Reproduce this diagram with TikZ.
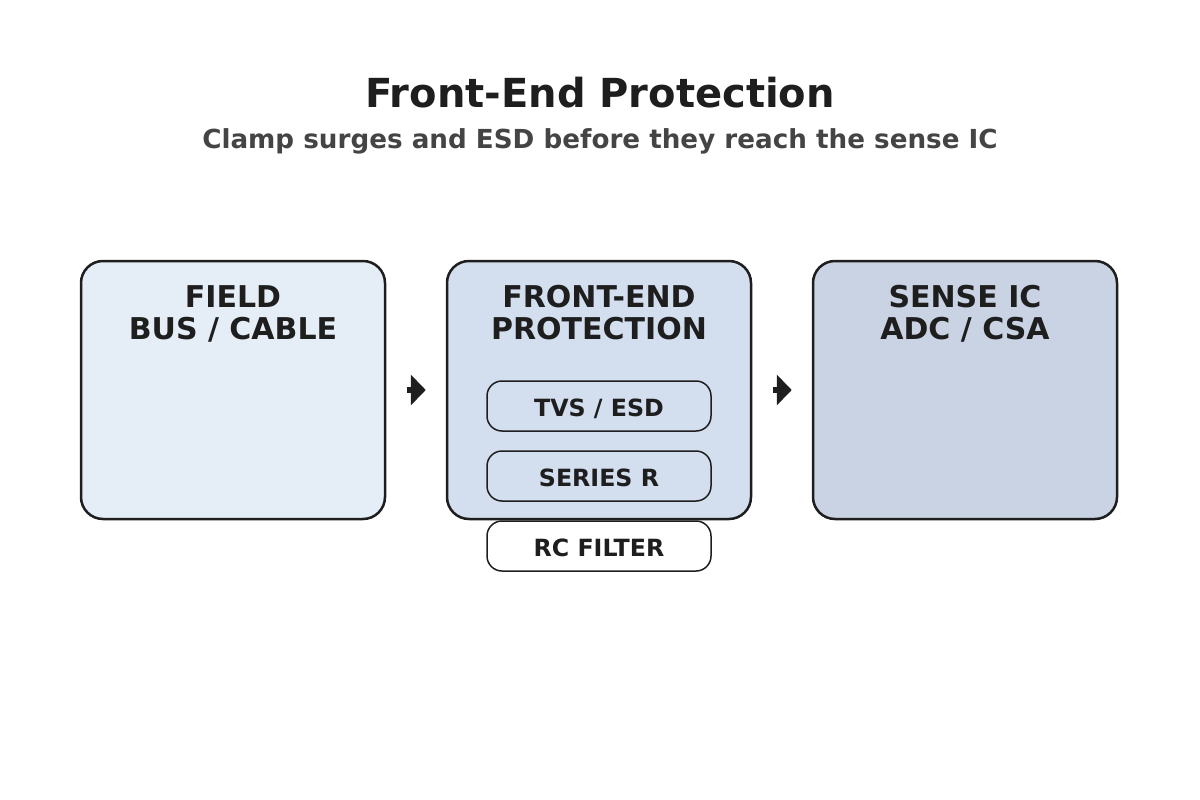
\documentclass[tikz,border=0pt]{standalone}
\usepackage{fontspec}
\setmainfont{DejaVu Sans}
\usetikzlibrary{arrows.meta}
\definecolor{txt}{HTML}{1E1E1E}
\definecolor{subtxt}{HTML}{444444}
\definecolor{edge}{HTML}{1E1E1E}
\definecolor{fillA}{HTML}{E5EDF6}
\definecolor{fillB}{HTML}{D3DEEF}
\definecolor{fillC}{HTML}{C9D3E3}
\tikzset{
  bigbox/.style={draw=edge, line width=2.5pt, rounded corners=22pt, minimum width=304pt, minimum height=258pt, inner sep=0pt},
  smallbox/.style={draw=edge, line width=1.5pt, rounded corners=15pt, minimum width=224pt, minimum height=50pt, inner sep=0pt, text height=20pt, text depth=0pt, font=\fontsize{23.7}{27}\selectfont\bfseries, text=txt},
  boxtitle/.style={font=\fontsize{30}{32}\selectfont\bfseries, text=txt, align=center, anchor=base},
  flow/.style={draw=txt, line width=6pt, -{Triangle[length=15pt,width=30pt]}, shorten <=21pt, shorten >=20pt}
}
\begin{document}
\begin{tikzpicture}[x=1pt,y=-1pt]
\useasboundingbox (0,0) rectangle (1200,800);
\node[anchor=base, font=\fontsize{40}{48}\selectfont\bfseries, text=txt] (title) at (600,107) {Front-End Protection};
\node[anchor=base, font=\fontsize{26.2}{30}\selectfont\bfseries, text=subtxt] (sub) at (600,148) {Clamp surges and ESD before they reach the sense IC};

\node[bigbox, fill=fillA] (field) at (233,390) {};
\node[bigbox, fill=fillB] (prot) at (599,390) {};
\node[bigbox, fill=fillC] (ic) at (965,390) {};

\node[boxtitle] (fieldt1) at (233,307) {FIELD};
\node[boxtitle] (fieldt2) at (233,339) {BUS / CABLE};
\node[boxtitle] (prott1) at (599,307) {FRONT-END};
\node[boxtitle] (prott2) at (599,339) {PROTECTION};
\node[boxtitle] (ict1) at (965,307) {SENSE IC};
\node[boxtitle] (ict2) at (965,339) {ADC / CSA};

\node[smallbox, fill=fillB] (tvs) at (599,406) {TVS / ESD};
\node[smallbox, fill=fillB] (ser) at (599,476) {SERIES R};
\node[smallbox, fill=white] (rc) at (599,546) {RC FILTER};

\draw[flow] (field.east) -- (prot.west);
\draw[flow] (prot.east) -- (ic.west);
\end{tikzpicture}
\end{document}
